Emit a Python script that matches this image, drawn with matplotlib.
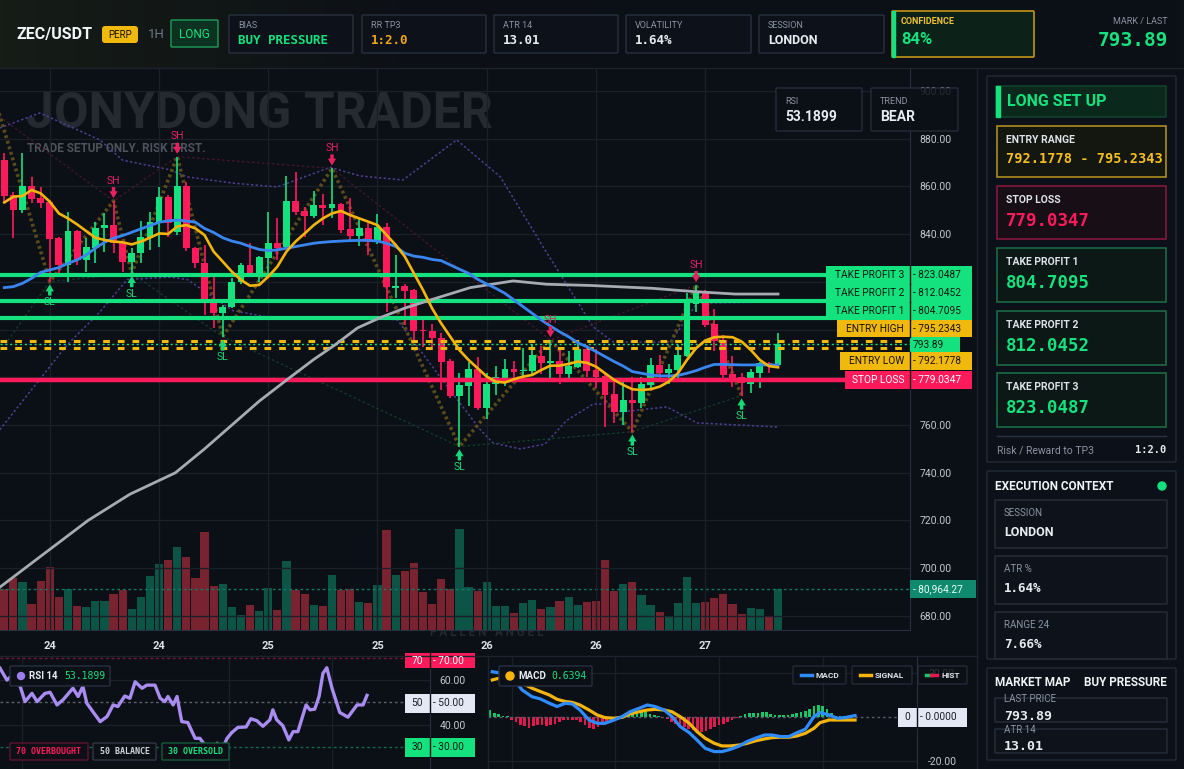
import numpy as np
import matplotlib
matplotlib.use('Agg')
import matplotlib.pyplot as plt
from matplotlib.patches import FancyBboxPatch, Rectangle, Circle
from matplotlib.colors import LinearSegmentedColormap

plt.rcParams['font.family'] = ['Roboto', 'DejaVu Sans']
MONO = 'DejaVu Sans Mono'

# ---------------- data ----------------
symbol = 'ZEC/USDT'
opens = [871.1, 856.4, 850.1, 860.2, 855.3, 853.6, 838.3, 827.1, 841.3, 829.2,
         834.1, 842.4, 843.8, 836.2, 828.2, 832.0, 838.3, 845.2, 855.7, 840.8,
         860.2, 834.1, 827.8, 812.8, 806.8, 809.6, 820.1, 827.1, 823.6, 830.1,
         836.2, 834.8, 853.9, 849.7, 847.7, 852.2, 851.1, 852.5, 842.1, 839.4,
         842.4, 836.6, 842.8, 817.6, 818.3, 816.6, 799.9, 799.4, 796.3, 786.8,
         772.2, 776.4, 783.3, 767.3, 777.2, 779.6, 783.3, 782.5, 782.8, 788.9,
         786.1, 786.8, 781.4, 784.5, 791.7, 783.1, 780.6, 773.0, 765.6, 770.5,
         769.4, 776.8, 785.2, 782.0, 783.1, 789.0, 810.7, 816.2, 802.3, 795.6,
         781.4, 780.0, 777.2, 782.0, 785.9, 785.2]
highs = [873.9, 857.8, 873.9, 864.1, 859.9, 854.2, 838.9, 849.1, 841.8, 838.3,
         845.2, 848.7, 853.9, 836.9, 834.0, 845.5, 849.1, 859.9, 856.5, 872.5,
         862.0, 834.6, 835.5, 822.9, 810.5, 821.5, 828.0, 836.2, 831.0, 849.4,
         846.6, 864.5, 866.2, 851.5, 858.1, 856.7, 867.6, 853.0, 855.0, 846.3,
         844.5, 848.3, 844.8, 831.3, 819.0, 817.0, 805.1, 802.2, 798.4, 787.5,
         781.7, 786.6, 788.6, 781.7, 784.7, 787.5, 786.8, 792.1, 794.0, 793.3,
         795.6, 791.4, 791.0, 794.5, 793.5, 791.7, 781.5, 778.2, 779.6, 780.3,
         780.3, 788.0, 789.4, 785.4, 793.5, 815.2, 818.7, 816.6, 808.5, 797.7,
         789.1, 782.0, 783.5, 786.5, 786.3, 798.7]
lows = [852.9, 838.3, 849.0, 852.9, 850.8, 820.1, 823.6, 819.8, 827.0, 824.3,
        827.8, 832.7, 832.0, 824.3, 823.6, 827.8, 833.4, 834.8, 839.0, 839.7,
        833.0, 826.0, 806.1, 800.5, 797.0, 809.0, 819.0, 823.0, 820.0, 823.6,
        829.2, 834.0, 848.0, 838.9, 846.9, 843.8, 846.6, 840.3, 837.6, 835.2,
        831.3, 836.0, 807.5, 813.1, 801.9, 794.2, 792.8, 791.4, 774.7, 771.2,
        751.0, 768.1, 766.3, 762.5, 772.6, 776.5, 778.9, 778.9, 781.0, 781.4,
        779.6, 777.2, 779.2, 783.7, 780.3, 775.4, 759.3, 760.7, 760.0, 757.2,
        767.0, 774.7, 779.6, 777.0, 778.9, 788.7, 807.5, 801.2, 791.0, 777.9,
        776.0, 772.3, 773.6, 775.4, 782.0, 784.8]
closes = [856.1, 850.1, 860.2, 854.7, 853.2, 838.0, 827.1, 841.3, 829.2, 834.6,
          842.4, 843.8, 836.2, 828.2, 832.0, 838.7, 845.2, 855.7, 844.5, 860.2,
          834.1, 827.8, 812.4, 806.8, 809.6, 820.1, 827.1, 823.6, 830.6, 836.2,
          834.3, 853.9, 849.4, 847.7, 852.2, 851.1, 852.6, 841.7, 839.4, 842.4,
          836.6, 842.8, 818.0, 818.4, 816.3, 799.5, 799.4, 796.3, 786.6, 772.2,
          776.8, 783.3, 767.3, 777.2, 780.0, 783.3, 782.4, 783.0, 789.3, 786.1,
          786.8, 781.4, 784.7, 791.9, 782.8, 780.3, 772.6, 765.6, 770.5, 769.4,
          777.2, 785.2, 782.0, 783.5, 789.4, 811.0, 816.2, 801.9, 795.4, 781.0,
          779.6, 777.5, 782.1, 785.9, 784.7, 793.89]
volumes = [81000, 102100, 94800, 51400, 96800, 124400, 65200, 81600, 47400, 45400,
           57300, 57300, 71100, 79000, 41500, 65200, 106700, 130400, 138300, 163900,
           144200, 102700, 193600, 86900, 90900, 45400, 29600, 49400, 37500, 83000,
           39500, 136300, 79000, 71100, 49400, 47400, 108600, 79000, 81000, 55300,
           53300, 88900, 197500, 108600, 116500, 132300, 75100, 51400, 100700, 81000,
           199500, 84900, 77000, 94800, 47400, 47400, 33600, 53300, 59300, 41500,
           45400, 57300, 65200, 49400, 55300, 57300, 138300, 77000, 90900, 94800,
           69100, 49400, 35600, 27700, 53300, 104700, 53300, 55300, 63200, 71100,
           51400, 31600, 43500, 41500, 25700, 80964.27]
ema_fast = [853.3, 855.7, 856.0, 858.5, 857.1, 853.6, 848.7, 846.6, 844.1, 841.3,
            838.5, 837.6, 836.9, 836.6, 835.7, 836.9, 838.5, 840.3, 840.1, 843.2,
            843.8, 842.4, 839.6, 832.7, 828.5, 824.3, 820.8, 818.4, 818.7, 822.2,
            826.4, 832.7, 836.9, 840.3, 843.8, 846.6, 848.7, 849.7, 848.0, 846.6,
            845.2, 843.8, 839.6, 835.5, 830.6, 823.6, 816.6, 808.9, 802.6, 797.0,
            791.4, 787.3, 783.8, 780.3, 778.2, 777.8, 779.2, 780.3, 781.0, 783.1,
            784.9, 784.9, 785.6, 786.6, 786.1, 784.5, 781.7, 778.9, 776.8, 775.0,
            774.7, 775.0, 776.1, 778.2, 781.7, 787.3, 792.2, 795.4, 796.8, 797.0,
            796.8, 795.0, 791.5, 787.3, 784.7, 784.2]
ema_mid = [817.6, 818.0, 819.4, 821.5, 824.0, 825.0, 826.0, 827.8, 829.2, 831.3,
           834.1, 836.6, 838.3, 839.4, 840.8, 842.2, 843.6, 845.0, 845.6, 845.9,
           845.5, 845.0, 842.4, 840.7, 838.5, 837.1, 836.2, 834.8, 833.6, 833.1,
           833.4, 834.1, 834.8, 835.5, 836.2, 836.6, 836.9, 837.1, 837.3, 837.4,
           837.4, 837.1, 836.2, 834.8, 832.0, 830.8, 830.3, 829.4, 828.9, 827.1,
           825.3, 823.6, 821.1, 819.1, 817.3, 815.2, 812.4, 809.6, 806.8, 804.0,
           801.5, 799.1, 797.0, 794.5, 792.8, 790.8, 788.7, 786.6, 784.7, 782.4,
           781.7, 781.0, 780.6, 780.6, 780.8, 781.7, 782.8, 784.2, 785.4, 785.4,
           785.3, 785.2, 785.2, 785.2, 785.2, 785.2]
ema_slow_x = [-0.5, 4, 9.2, 13.8, 18.8, 22, 25, 28, 31.4, 34, 36.3, 38.8, 41.3,
              44, 46.8, 51.2, 55.9, 59.6, 64.4, 71.2, 75.9, 80.3, 85]
ema_slow = [692, 705, 720, 731, 740, 750, 760, 770, 780, 787.5, 793.5, 800.7, 805,
            809, 812.4, 817.6, 820.4, 819.0, 818.5, 817.3, 815.9, 814.9, 814.9]
bb_up_x = [-0.5, 3.9, 10.5, 13, 18.2, 20.1, 25.1, 30, 35.8, 39.1, 43.8, 49.7,
           54.5, 59.4, 64.7, 66.9, 73.2, 76.1, 84.9]
bb_up = [884.5, 890.8, 879.5, 871, 867, 864, 861.4, 859.8, 868, 864.4, 862.7,
         879.5, 864, 833.4, 801.1, 794.8, 794.8, 811.1, 811.6]
bb_lo_x = [-0.5, 6.9, 10.5, 13.5, 18.2, 20.1, 25.1, 28.9, 39.9, 43.2, 47.9, 52.3,
           53.7, 56.7, 59.4, 61.8, 64.7, 66.9, 67.7, 72.8, 76.1, 84.9]
bb_lo = [758, 793.6, 807.4, 821, 822, 821, 808, 805.3, 805.3, 804, 780, 758,
         752.5, 750, 752, 762, 768.8, 768.8, 765.5, 767.6, 760.9, 759.2]
swing_highs = [12, 19, 36, 60, 76]
swing_lows = [5, 14, 24, 50, 69, 81]

entry_high = 795.2343
entry_low = 792.1778
last_price = 793.89
stop_loss = 779.0347
tp1, tp2, tp3 = 804.7095, 812.0452, 823.0487

day_idx = [5, 17, 29, 41, 53, 65, 77]
day_labels = ['24', '24', '25', '25', '26', '26', '27']
price_ticks = [680, 700, 720, 740, 760, 780, 800, 820, 840, 860, 880, 900]
hidden_ticks = [780, 800, 820]   # covered by the level labels

rsi_x = [0, 1.6, 3.0, 4.2, 5.8, 7.4, 8.6, 10.4, 11.6, 13.2, 14.6, 16.9, 18.1, 19.2,
         20.1, 21.5, 23.2, 24.8, 26.2, 27.3, 28.9, 30.1, 31.3, 32.9, 34.0, 35.9,
         37.1, 38.2, 38.9, 40.1, 41.0, 42.1, 43.5, 45.2, 46.3, 47.7, 49.1, 50.3,
         51.4, 52.6, 53.7, 55.1, 57.0, 58.1, 59.5, 60.9, 62.5, 63.2, 64.1, 65.5,
         66.9, 67.9, 69.0, 70.9, 71.8, 72.9, 73.9, 74.8, 75.7, 76.9, 78.7, 80.6,
         82.7, 84.1, 85.0]
rsi = [65.4, 60.1, 62.4, 60.1, 50.4, 54.1, 50.4, 54.1, 54.6, 48.9, 51.2, 56.4,
       52.7, 57.2, 49.7, 45.9, 41.4, 43.7, 48.9, 48.2, 52.9, 51.9, 59.3, 56.4,
       57.8, 57.8, 51.9, 50.4, 52.7, 48.9, 52.7, 41.4, 41.0, 33.9, 33.9, 30.2,
       26.0, 31.7, 28.8, 33.9, 36.5, 38.8, 39.0, 42.7, 41.8, 39.3, 42.2, 46.7,
       42.2, 39.6, 33.2, 36.9, 36.9, 48.9, 46.7, 47.0, 52.7, 63.1, 65.6, 56.4,
       45.5, 43.4, 48.9, 48.9, 53.1899]

macd_x = [0.5, 2.8, 5.1, 7.4, 9.7, 11.6, 13.7, 15.5, 17.4, 19.0, 20.8, 22.9, 24.8,
          26.6, 28.7, 30.6, 32.4, 34.5, 36.4, 38.2, 40.3, 42.1, 44.0, 46.1, 47.9,
          49.8, 51.9, 53.7, 55.6, 57.7, 59.5, 61.4, 63.5, 65.3, 67.2, 69.2, 71.1,
          73.0, 75.0, 76.4, 78.5, 80.4, 82.2, 84.5]
macd = [20.8, 20.0, 18.5, 12.4, 9.3, 8.3, 6.3, 4.8, 6.3, 6.0, 3.2, -1.4, -2.9,
        -2.9, -1.4, 0.2, 2.4, 4.0, 5.5, 4.8, 3.2, 0.2, -4.4, -7.2, -10.6, -14.4,
        -15.9, -15.9, -14.9, -13.3, -11.3, -9.8, -8.3, -8.3, -9.0, -9.0, -7.2,
        -5.6, 0.2, 2.0, 0.9, -0.6, -0.3, 0.6394]
signal = [17.0, 18.2, 18.5, 15.5, 13.2, 11.7, 10.1, 8.1, 7.1, 6.7, 5.5, 3.2, 0.9,
          -0.3, -0.6, -0.15, 1.4, 2.4, 3.2, 3.5, 3.2, 2.4, 0.15, -2.9, -6.7, -9.8,
          -12.1, -13.3, -13.3, -12.9, -12.1, -11.0, -10.1, -9.5, -9.3, -9.3, -8.7,
          -7.5, -5.2, -2.6, -1.4, -1.4, -1.4, -1.4]
hist = [3.4, 1.8, 1.2, 0.6, 0.3, -1.5, -2.3, -3.8, -4.3, -4.9, -4.3, -3.8, -3.8,
        -4.1, -3.8, -3.1, -2.3, -1.5, -1.2, -1.5, -1.2, -2.3, -3.8, -4.9, -5.4,
        -4.6, -3.8, -3.1, -1.8, -0.8, 0.3, 1.5, 2.3, 2.8, 2.8, 2.3, 2.8, 1.5, 0.9,
        0.3, -0.3, -0.8, -2.3, -3.1, -3.8, -4.6, -5.4, -5.8, -6.4, -6.9, -6.4,
        -5.4, -4.6, -3.8, -3.1, -2.3, -1.2, -0.6, 0.6, 1.5, 1.8, 1.8, 1.8, 2.3,
        2.1, 1.5, 0.9, 0.9, 0.9, 0.9, 1.5, 1.8, 2.1, 2.8, 3.8, 4.9, 5.4, 4.9, 3.8,
        1.8, 0.3, 0.3, 0.5, 0.1, 0.9]

header_cards = [('BIAS', 'BUY PRESSURE'), ('RR TP3', '1:2.0'), ('ATR 14', '13.01'),
                ('VOLATILITY', '1.64%'), ('SESSION', 'LONDON')]
confidence = '84%'
context_rows = [('SESSION', 'LONDON'), ('ATR %', '1.64%'), ('RANGE 24', '7.66%')]
map_rows = [('LAST PRICE', '793.89'), ('ATR 14', '13.01')]

# ---------------- styling ----------------
W, H = 1184, 769
BG = '#0b0f16'
GRID = '#1a2029'
EDGE = '#283140'
GREEN = '#14e27e'
RED = '#ff1a5c'
YELLOW = '#f0b90b'
WHITE = '#e8ebf0'
GREY = '#8a93a2'

fig = plt.figure(figsize=(W / 100, H / 100), dpi=100, facecolor=BG)


def rect(x0, y0, x1, y1):
    return [x0 / W, 1 - y1 / H, (x1 - x0) / W, (y1 - y0) / H]


# background layer (pixel coordinates)
bg = fig.add_axes([0, 0, 1, 1], zorder=-10)
bg.axis('off')
hcmap = LinearSegmentedColormap.from_list('hdr', ['#161c16', '#0d1117', '#0b0f16', '#0c1017'])
bg.imshow(np.linspace(0, 1, 256)[None, :], extent=(0, W, 68, 0), cmap=hcmap, aspect='auto')
bg.add_patch(Rectangle((977, 68), W - 977, H - 68, color='#0c1018'))
bg.set_xlim(0, W)
bg.set_ylim(H, 0)
bg.text(26, 114, 'JONYDONG TRADER', fontsize=36, fontweight='bold', color='#252a32', va='center')
bg.text(27, 149, 'TRADE SETUP ONLY. RISK FIRST.', fontsize=8.5, fontweight='bold', color='#4d535c', va='center')
bg.text(487, 632, 'F A L L E N   A N G E L', fontsize=8.5, fontweight='bold', color='#232830',
        ha='center', va='center')

# ---------------- main price chart ----------------
idx = np.arange(len(closes))
o = np.array(opens); c = np.array(closes); hi = np.array(highs); lo = np.array(lows)
up = c >= o

ax_vol = fig.add_axes(rect(0, 68, 910, 630), zorder=1)
ax_vol.set_facecolor('none')
ax_vol.axis('off')
ax_vol.set_xlim(-0.47, 99.5)
ax_vol.set_ylim(0, 1.11e6)
ax_vol.bar(idx, volumes, width=0.9, color=np.where(up, '#0c5446', '#7a2330'))
ax_vol.axhline(volumes[-1], color='#127a64', lw=1, ls=(0, (2, 2)))

ax = fig.add_axes(rect(0, 68, 910, 630), zorder=2)
ax.set_facecolor('none')
ax.set_xlim(-0.47, 99.5)
ax.set_ylim(674.1, 909.64)
ax.set_axisbelow(True)
ax.grid(color=GRID, lw=1)
ax.set_yticks(price_ticks)
ax.set_yticklabels(['' if p in hidden_ticks else f'{p:.2f}' for p in price_ticks])
ax.yaxis.tick_right()
ax.tick_params(axis='y', length=0, pad=7, labelcolor='#c3c8d0', labelsize=7.5)
ax.set_xticks(day_idx)
ax.set_xticklabels(day_labels, fontweight='bold')
ax.tick_params(axis='x', length=0, pad=8, labelcolor='#dde1e7', labelsize=8)
for s in ('top', 'left'):
    ax.spines[s].set_visible(False)
for s in ('right', 'bottom'):
    ax.spines[s].set_color(EDGE)

# bands and swing structure
ax.plot(bb_up_x, bb_up, color='#4f3f92', lw=1.1, ls=(0, (1.5, 1.5)), zorder=1)
ax.plot(bb_lo_x, bb_lo, color='#4f3f92', lw=1.1, ls=(0, (1.5, 1.5)), zorder=1)
sh_x = [-1] + swing_highs
sh_y = [890.6] + [highs[i] for i in swing_highs]
sl_x = [-1] + swing_lows
sl_y = [788.0] + [lows[i] for i in swing_lows]
ax.plot(sh_x, sh_y, color='#4a1630', lw=0.9, ls=(0, (2, 2)), zorder=1)
ax.plot(sl_x, sl_y, color='#143f2c', lw=0.9, ls=(0, (2, 2)), zorder=1)
zz = sorted([(i, highs[i]) for i in swing_highs] + [(i, lows[i]) for i in swing_lows])
zz_x = [-1] + [p[0] for p in zz]
zz_y = [896.0] + [p[1] for p in zz]
ax.plot(zz_x, zz_y, color='#5a4b1a', lw=2.6, ls=(0, (0.8, 0.8)), zorder=1.5)

# candles
ccol = np.where(up, GREEN, RED)
ax.vlines(idx, lo, hi, colors=ccol, lw=1.2, zorder=2)
ax.bar(idx, np.maximum(np.abs(c - o), 0.5), bottom=np.minimum(o, c), width=0.75,
       color=ccol, zorder=3)

# trade levels
for lvl in (tp1, tp2, tp3):
    ax.axhline(lvl, color=GREEN, lw=3, zorder=4)
ax.axhline(stop_loss, color=RED, lw=3.2, zorder=4)
ax.axhline(entry_high, color=YELLOW, lw=2.2, ls=(0, (2.2, 2.6)), zorder=4)
ax.axhline(entry_low, color=YELLOW, lw=2.2, ls=(0, (2.2, 2.6)), zorder=4)
ax.axhline(last_price, color=GREEN, lw=1, ls=(0, (1.5, 2)), zorder=4)

# moving averages
ax.plot(ema_slow_x, ema_slow, color='#a6aab2', lw=2, zorder=5)
ax.plot(idx, ema_mid, color='#3a86f0', lw=2, zorder=5)
ax.plot(idx, ema_fast, color='#f4b40c', lw=1.9, zorder=5)

# swing markers
arrow = 'simple,head_width=0.6,head_length=0.5,tail_width=0.25'
for i in swing_highs:
    ax.annotate('', xy=(i, highs[i]), xytext=(0, 10), textcoords='offset points',
                arrowprops=dict(arrowstyle=arrow, color='#e8205e', lw=0, shrinkA=0, shrinkB=2),
                zorder=6)
    ax.annotate('SH', xy=(i, highs[i]), xytext=(0, 11), textcoords='offset points',
                ha='center', va='bottom', color='#e02262', fontsize=7.5, zorder=6)
for i in swing_lows:
    ax.annotate('', xy=(i, lows[i]), xytext=(0, -10), textcoords='offset points',
                arrowprops=dict(arrowstyle=arrow, color='#17d97a', lw=0, shrinkA=0, shrinkB=2),
                zorder=6)
    ax.annotate('SL', xy=(i, lows[i]), xytext=(0, -11), textcoords='offset points',
                ha='center', va='top', color='#17d97a', fontsize=7.5, zorder=6)

# ---------------- RSI panel ----------------
ax_rsi = fig.add_axes(rect(0, 656, 430, 769), zorder=2)
ax_rsi.set_facecolor('none')
ax_rsi.set_xlim(0, 99.6)
ax_rsi.set_ylim(20.1, 70.9)
ax_rsi.set_axisbelow(True)
ax_rsi.set_xticks([5, 53, 77])
ax_rsi.set_xticklabels([])
ax_rsi.set_yticks([40, 60])
ax_rsi.set_yticklabels(['40.00', '60.00'])
ax_rsi.yaxis.tick_right()
ax_rsi.tick_params(length=0, pad=7, labelcolor='#c3c8d0', labelsize=7.5)
ax_rsi.grid(color=GRID, lw=1)
for s in ('top', 'left', 'bottom'):
    ax_rsi.spines[s].set_visible(False)
ax_rsi.spines['right'].set_color(EDGE)
ax_rsi.axhline(70, color='#7a1838', lw=1, ls=(0, (2, 2)))
ax_rsi.axhline(50, color='#5c626c', lw=1, ls=(0, (2, 2)))
ax_rsi.axhline(30, color='#136c47', lw=1, ls=(0, (2, 2)))
ax_rsi.plot(rsi_x, rsi, color='#a98cf2', lw=2.4, solid_joinstyle='round')

# ---------------- MACD panel ----------------
ax_m = fig.add_axes(rect(488, 656, 917, 769), zorder=2)
ax_m.set_facecolor('none')
ax_m.set_xlim(-0.5, 98.85)
ax_m.set_ylim(-23.9, 28)
ax_m.set_axisbelow(True)
ax_m.set_xticks([5, 29, 53, 77])
ax_m.set_xticklabels([])
ax_m.set_yticks([-20, 20])
ax_m.set_yticklabels(['-20.00', '20.00'])
ax_m.yaxis.tick_right()
ax_m.tick_params(length=0, pad=8, labelcolor='#c3c8d0', labelsize=7.5)
ax_m.grid(color=GRID, lw=1)
for s in ('top', 'left', 'bottom'):
    ax_m.spines[s].set_visible(False)
ax_m.spines['right'].set_color(EDGE)
ax_m.axhline(0, color='#555b66', lw=1, ls=(0, (2, 2)))
hx = np.arange(len(hist))
ax_m.bar(hx, hist, width=0.62, color=np.where(np.array(hist) >= 0, '#14c76a', '#e2194f'))
ax_m.plot(macd_x, signal, color='#f4b40c', lw=2.3)
ax_m.plot(macd_x, macd, color='#2f8cff', lw=2.3)

# ---------------- UI overlay (pixel coordinates) ----------------
ui = fig.add_axes([0, 0, 1, 1], zorder=20)
ui.set_xlim(0, W)
ui.set_ylim(H, 0)
ui.axis('off')


def box(x0, y0, x1, y1, fc, ec='none', lw=1.0, r=2, alpha=1.0):
    ui.add_patch(FancyBboxPatch((x0, y0), x1 - x0, y1 - y0,
                                boxstyle=f'round,pad=0,rounding_size={r}',
                                fc=fc, ec=ec, lw=lw, alpha=alpha))


def txt(x, y, s, size=7.5, color=WHITE, weight='normal', ha='left', family=None, **kw):
    ui.text(x, y, s, fontsize=size, color=color, fontweight=weight, ha=ha, va='center',
            family=family if family else plt.rcParams['font.family'], **kw)


# separators
ui.plot([0, W], [68, 68], color='#1c232d', lw=1)
ui.plot([977, 977], [68, H], color='#1c232d', lw=1)
ui.plot([0, 977], [656, 656], color='#1c232d', lw=1)
ui.plot([488, 488], [656, H], color='#1c232d', lw=1)

# header
txt(16, 34, symbol, size=11.5, weight='bold', color='#f2f4f7')
box(102, 26, 138, 43, YELLOW, r=3)
txt(120, 34.5, 'PERP', size=7, color='#1b1504', ha='center')
txt(148, 34, '1H', size=9.5, color='#6c7686')
box(171, 20, 218, 47, '#0c3322', ec='#1f9d58', r=1)
txt(194.5, 34, 'LONG', size=8.5, color=GREEN, ha='center')
card_x = [(229, 353), (362, 486), (494, 618), (626, 751), (759, 884)]
card_col = [GREEN, '#f2a516', WHITE, WHITE, WHITE]
card_font = [MONO, MONO, MONO, MONO, None]
for (lab, val), (x0, x1), col, fam in zip(header_cards, card_x, card_col, card_font):
    box(x0, 15, x1, 53, '#0d121a', ec=EDGE, r=1)
    txt(x0 + 9, 26, lab, size=6.5, color=GREY)
    txt(x0 + 9, 41, val, size=9, color=col, weight='bold', family=fam)
box(892, 11, 1034, 57, '#0c2218', ec='#c39416', lw=1.2, r=1)
ui.add_patch(Rectangle((892, 11), 3, 46, color=GREEN))
txt(901, 22, 'CONFIDENCE', size=6.5, color='#f2c233', weight='bold')
txt(901, 40, confidence, size=12, color=GREEN, weight='bold')
txt(1168, 22, 'MARK / LAST', size=6.5, color=GREY, ha='right')
txt(1168, 41, f'{last_price:.2f}', size=14, color=GREEN, weight='bold', ha='right', family=MONO)

# RSI / TREND badges
box(776, 88, 862, 131, BG, ec=EDGE, r=1, alpha=0.9)
txt(785, 101, 'RSI', size=6.5, color=GREY)
txt(785, 117, f'{rsi[-1]:.4f}', size=10, color=WHITE, weight='bold')
box(871, 88, 958, 131, BG, ec=EDGE, r=1, alpha=0.85)
txt(880, 101, 'TREND', size=6.5, color=GREY)
txt(880, 117, 'BEAR', size=10, color=WHITE, weight='bold')

# level labels on the price axis
level_rows = [
    ('TAKE PROFIT 3', tp3, 266, 284, 826, GREEN, '#0a1a11'),
    ('TAKE PROFIT 2', tp2, 284, 302, 826, GREEN, '#0a1a11'),
    ('TAKE PROFIT 1', tp1, 302, 320, 826, GREEN, '#0a1a11'),
    ('ENTRY HIGH', entry_high, 320, 337, 837, YELLOW, '#1a1405'),
    ('ENTRY LOW', entry_low, 352, 370, 840, YELLOW, '#1a1405'),
    ('STOP LOSS', stop_loss, 371, 389, 845, RED, '#ffffff'),
]
for lab, val, y0, y1, x0, fc, tc in level_rows:
    box(x0, y0, 972, y1, fc, r=0)
    ui.plot([909.5, 909.5], [y0, y1], color='#0b0f16', lw=1)
    txt(904, (y0 + y1) / 2, lab, size=7.3, color=tc, ha='right')
    txt(913, (y0 + y1) / 2, f'- {val:.4f}', size=7.3, color=tc)
box(910, 337, 960, 352, GREEN, r=0)
txt(913, 344.5, f'{last_price:.2f}', size=7.3, color='#0a1a11')
box(910, 580, 976, 598, '#0f8a6e', r=0)
txt(913, 589, f'- {volumes[-1]:,.2f}', size=7.3, color='#e8fff6')

# RSI legend and level boxes
box(10, 666, 110, 686, BG, ec=EDGE, r=1)
ui.add_patch(Circle((21, 676), 3.5, color='#9b7df0'))
txt(29, 676, 'RSI 14', size=7, color=WHITE, weight='bold')
txt(64, 676, f'{rsi[-1]:.4f}', size=7, color=GREEN, family=MONO)
for x0, x1, s, ec, tc in [(10, 88, '70 OVERBOUGHT', '#5e1430', RED),
                          (93, 156, '50 BALANCE', '#303844', '#d0d4dc'),
                          (162, 229, '30 OVERSOLD', '#145c3a', GREEN)]:
    box(x0, 743, x1, 760, '#0c1016', ec=ec, r=1)
    txt((x0 + x1) / 2, 751.5, s, size=6, color=tc, ha='center', family=MONO, weight='bold')
for lvl, y0, y1, fc, tc in [(70, 653, 668, RED, '#ffffff'), (50, 694, 713, '#e2e8f4', '#1b1f27'),
                            (30, 738, 757, GREEN, '#0a1a11')]:
    box(405, y0, 475, y1, fc, r=0)
    ui.plot([429.5, 429.5], [y0, y1], color='#0b0f16', lw=1)
    txt(417, (y0 + y1) / 2, f'{lvl}', size=7.3, color=tc, ha='center')
    txt(433, (y0 + y1) / 2, f'- {lvl:.2f}', size=7.3, color=tc)

# MACD legend and zero box
box(499, 666, 592, 686, BG, ec=EDGE, r=1)
ui.add_patch(Circle((510, 676), 4, color='#f4b40c'))
txt(518, 676, 'MACD', size=7, color=WHITE, weight='bold')
txt(551, 676, f'{macd[-1]:.4f}', size=7, color=GREEN, family=MONO)
for x0, x1, s, col in [(793, 846, 'MACD', '#2f8cff'), (852, 912, 'SIGNAL', '#f4b40c'),
                       (918, 967, 'HIST', None)]:
    box(x0, 666, x1, 684, BG, ec=EDGE, r=1, alpha=0.8)
    if col:
        ui.plot([x0 + 8, x0 + 19], [675, 675], color=col, lw=2.5)
    else:
        ui.plot([x0 + 8, x0 + 13], [675, 675], color='#14c76a', lw=2.5)
        ui.plot([x0 + 13, x0 + 19], [675, 675], color='#e2194f', lw=2.5)
    txt(x0 + 23, 675, s, size=6, color='#dde1e7', weight='bold')
box(898, 708, 967, 727, '#e2e8f4', r=0)
ui.plot([916.5, 916.5], [708, 727], color='#0b0f16', lw=1)
txt(907, 717.5, '0', size=7.3, color='#1b1f27', ha='center')
txt(920, 717.5, '- 0.0000', size=7.3, color='#1b1f27')

# right panel: long setup card
box(987, 76, 1176, 462, '#0c1119', ec='#222b38', r=1)
box(996, 86, 1166, 117, '#0b281c', ec='#134a30', r=0)
ui.add_patch(Rectangle((996, 86), 3.5, 31, color=GREEN))
txt(1007, 101.5, 'LONG SET UP', size=11.5, color=GREEN, weight='bold')
box(997, 126, 1166, 177, '#141610', ec='#b08c1c', lw=1.2, r=0)
txt(1006, 140, 'ENTRY RANGE', size=7.5, color='#dfe3e9', weight='bold')
txt(1006, 159, f'{entry_low:.4f} - {entry_high:.4f}', size=9.8, color='#f4be1c',
    weight='bold', family=MONO)
setup_cards = [('STOP LOSS', stop_loss, 186, 239, '#170e16', '#84183c', RED),
               ('TAKE PROFIT 1', tp1, 248, 302, '#0c1816', '#196a45', GREEN),
               ('TAKE PROFIT 2', tp2, 311, 365, '#0c1816', '#196a45', GREEN),
               ('TAKE PROFIT 3', tp3, 373, 427, '#0c1816', '#196a45', GREEN)]
for lab, val, y0, y1, fc, ec, col in setup_cards:
    box(997, y0, 1166, y1, fc, ec=ec, lw=1.2, r=0)
    txt(1006, y0 + 14, lab, size=7.5, color='#dfe3e9', weight='bold')
    txt(1006, y0 + 35, f'{val:.4f}', size=12.5, color=col, weight='bold', family=MONO)
ui.plot([997, 1166], [436, 436], color='#2a3340', lw=1)
txt(997, 450, 'Risk / Reward to TP3', size=7.5, color=GREY)
txt(1166, 450, '1:2.0', size=7.5, color=WHITE, weight='bold', ha='right', family=MONO)

# execution context card
box(987, 471, 1176, 659, '#0c1119', ec='#222b38', r=1)
txt(995, 486, 'EXECUTION CONTEXT', size=8.5, color='#f0f2f5', weight='bold')
ui.add_patch(Circle((1162, 486), 4, color=GREEN))
for k, (lab, val) in enumerate(context_rows):
    y0 = 500 + 56 * k
    box(995, y0, 1167, min(y0 + 48, 659), '#0e131b', ec='#262f3c', r=0)
    txt(1004, y0 + 13, lab, size=7, color=GREY)
    txt(1004, y0 + 32, val, size=9, color=WHITE, weight='bold',
        family=None if k == 0 else MONO)

# market map card
box(987, 668, 1176, 760, '#0c1119', ec='#222b38', r=1)
txt(995, 683, 'MARKET MAP', size=8.5, color='#f0f2f5', weight='bold')
txt(1167, 683, 'BUY PRESSURE', size=8.5, color='#f0f2f5', weight='bold', ha='right')
for k, (lab, val) in enumerate(map_rows):
    y0 = 698 + 31 * k
    box(995, y0, 1167, y0 + 24, '#0e131b', ec='#262f3c', r=0)
    txt(1004, y0 + 1, lab, size=7, color=GREY)
    txt(1004, y0 + 18, val, size=9.5, color=WHITE, weight='bold', family=MONO)

fig.savefig('out.png', dpi=100, facecolor=BG)
